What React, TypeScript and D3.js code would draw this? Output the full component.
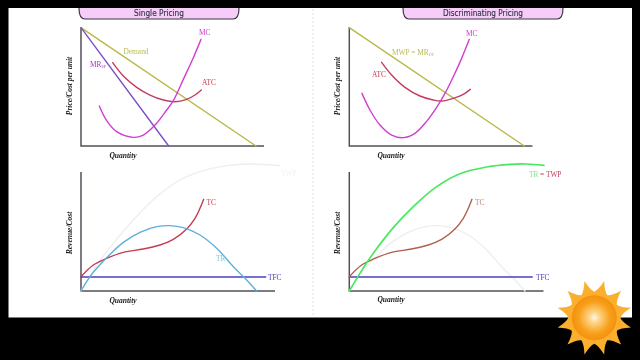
import React from "react";
import * as d3 from "d3";

type P = [number, number];

// Values, in chart units (3 units = 1 px wide, 3 units = 1 px tall)
const demand: P[] = [[0, 355], [525, 0]];
const marginalRevenue: P[] = [[0, 355], [263, 0]];
const mcSingle: P[] = [[55, 120], [77, 76], [107, 43], [157, 26], [187, 33], [222, 63], [257, 108], [277, 136], [307, 200], [337, 265], [360, 320]];
const atcSingle: P[] = [[95, 250], [127, 210], [167, 176], [207, 153], [247, 138], [282, 133], [317, 140], [342, 153], [361, 168]];
const mcDiscriminating: P[] = [[38, 158], [62, 108], [92, 63], [127, 33], [162, 25], [197, 38], [232, 74], [262, 116], [287, 158], [312, 208], [337, 263], [360, 320]];
const atcDiscriminating: P[] = [[97, 251], [127, 213], [167, 176], [212, 150], [252, 138], [277, 135], [312, 143], [342, 155], [363, 170]];
const totalRevenue: P[] = [[0, 0], [32, 50], [77, 100], [127, 146], [177, 176], [227, 193], [267, 196], [307, 190], [357, 168], [407, 128], [457, 73], [497, 33], [527, 0]];
const totalCost: P[] = [[0, 43], [37, 78], [77, 98], [127, 116], [187, 126], [237, 138], [277, 155], [317, 186], [342, 218], [357, 248], [368, 275]];
const tfcSingle: P[] = [[0, 42], [554, 42]];
const tfcDiscriminating: P[] = [[0, 42], [549, 42]];
const twpGhost: P[] = [[0, 0], [32, 55], [77, 118], [157, 213], [227, 283], [297, 333], [357, 358], [437, 376], [507, 381], [597, 376]];
const twpDiscriminating: P[] = [[0, 0], [32, 53], [72, 113], [132, 190], [192, 253], [262, 313], [332, 352], [412, 372], [482, 380], [532, 381], [584, 377]];
const titles = ["Single Pricing", "Discriminating Pricing"];
const titleWidths = [50, 80];
const sunSpikes = d3.range(12);

const INK = "#565058";
const x = d3.scaleLinear().domain([0, 525]).range([0, 175]);
const yTop = d3.scaleLinear().domain([0, 355]).range([146, 27.7]);
const yBottom = d3.scaleLinear().domain([0, 408]).range([291, 155]);

function Curve({ data, y, color, w = 1.4, ox }: { data: P[]; y: d3.ScaleLinear<number, number>; color: string; w?: number; ox: number }) {
  const gen = d3.line<P>().x((d) => ox + x(d[0])).y((d) => y(d[1])).curve(d3.curveCatmullRom.alpha(0.5));
  return <path d={gen(data) ?? ""} fill="none" stroke={color} strokeWidth={w} strokeLinecap="round" />;
}

function Label({ x: lx, y: ly, color, children, size = 7.4 }: { x: number; y: number; color: string; children: React.ReactNode; size?: number }) {
  return <text x={lx} y={ly} fill={color} fontSize={size} fontFamily="'Liberation Serif', serif">{children}</text>;
}

function AxisTitle({ x: lx, y: ly, rotate, children }: { x: number; y: number; rotate?: boolean; children: React.ReactNode }) {
  return (
    <text x={lx} y={ly} transform={rotate ? `rotate(-90 ${lx} ${ly})` : undefined} textAnchor="middle" fontSize={7.5} fontWeight="bold" fontStyle="italic" fill="#1a1a1a" fontFamily="'Liberation Serif', serif">
      {children}
    </text>
  );
}

function Axes({ ox, baseline, top, right }: { ox: number; baseline: number; top: number; right: number }) {
  return <path d={`M${ox} ${top}V${baseline}H${right}`} fill="none" stroke={INK} strokeWidth={1.5} />;
}

function Banner({ cx, title, width }: { cx: number; title: string; width: number }) {
  const h = 80;
  return (
    <g>
      <path d={`M${cx - h} 8 Q${cx - h} 19 ${cx - h + 6} 19 H${cx + h - 6} Q${cx + h} 19 ${cx + h} 8`} fill="#f6cdf8" stroke="#3f3548" strokeWidth={1.2} />
      <text x={cx} y={15.8} textAnchor="middle" fontSize={8.2} textLength={width} lengthAdjust="spacingAndGlyphs" stroke="#333348" strokeWidth={0.15} fill="#333348" fontFamily="'DejaVu Sans', sans-serif">{title}</text>
    </g>
  );
}

function Sun({ cx, cy }: { cx: number; cy: number }) {
  const step = (Math.PI * 2) / sunSpikes.length;
  let d = "";
  sunSpikes.forEach((i) => {
    const a = i * step + Math.PI / 12 - Math.PI / 2;
    const pt = (r: number, t: number) => `${cx + r * Math.cos(t)} ${cy + r * Math.sin(t)}`;
    d += `${i === 0 ? "M" : "L"}${pt(38, a)}Q${pt(28, a + step * 0.22)} ${pt(26, a + step * 0.5)}Q${pt(28, a + step * 0.78)} ${pt(38, a + step)}`;
  });
  return (
    <g>
      <path d={d + "Z"} fill="#fab02e" />
      <circle cx={cx} cy={cy} r={22.5} fill="url(#sunGrad)" />
    </g>
  );
}

export default function App() {
  const L = 81;
  const R = 349.3;
  return (
    <svg width={640} height={360} style={{ position: "fixed", left: 0, top: 0, background: "#000" }}>
      <defs>
        <filter id="soft" x="-5%" y="-5%" width="110%" height="110%">
          <feGaussianBlur stdDeviation="0.35" />
        </filter>
        <radialGradient id="sunGrad">
          <stop offset="0" stopColor="#fff8ea" />
          <stop offset="0.22" stopColor="#fdd68c" />
          <stop offset="0.7" stopColor="#f8a01a" />
          <stop offset="1" stopColor="#f4900e" />
        </radialGradient>
      </defs>
      <rect x={8.5} y={8} width={623.5} height={309.5} fill="#fff" />
      <g filter="url(#soft)">
        <line x1={313} x2={313} y1={9} y2={317} stroke="#ececec" strokeWidth={1.5} strokeDasharray="2 2" />
        <Banner cx={159} title={titles[0]} width={titleWidths[0]} />
        <Banner cx={483} title={titles[1]} width={titleWidths[1]} />

        {/* Single pricing, per unit */}
        <Axes ox={L} baseline={146} top={27} right={264} />
        <Curve data={demand} y={yTop} ox={L} color="#b8b848" />
        <Curve data={marginalRevenue} y={yTop} ox={L} color="#7a50c4" />
        <Curve data={atcSingle} y={yTop} ox={L} color="#c43c60" />
        <Curve data={mcSingle} y={yTop} ox={L} color="#d03fd0" />
        <Label x={123.5} y={54} color="#bcbc50">Demand</Label>
        <Label x={90} y={67} color="#a838c0">MR<tspan fontSize={4} dy={1}>SP</tspan></Label>
        <Label x={199} y={35} color="#c840c8">MC</Label>
        <Label x={202} y={85} color="#c43c50">ATC</Label>
        <AxisTitle x={72} y={86} rotate>Price/Cost per unit</AxisTitle>
        <AxisTitle x={123} y={158}>Quantity</AxisTitle>

        {/* Discriminating pricing, per unit */}
        <Axes ox={R} baseline={146} top={27} right={532.5} />
        <Curve data={demand} y={yTop} ox={R} color="#b8b848" />
        <Curve data={atcDiscriminating} y={yTop} ox={R} color="#c43c60" />
        <Curve data={mcDiscriminating} y={yTop} ox={R} color="#d03fd0" />
        <Label x={392} y={54.5} color="#bcbc50">MWP = MR<tspan fontSize={4} dy={1}>DP</tspan></Label>
        <Label x={372} y={77} color="#c43c50">ATC</Label>
        <Label x={466} y={35.5} color="#c840c8">MC</Label>
        <AxisTitle x={340} y={86} rotate>Price/Cost per unit</AxisTitle>
        <AxisTitle x={391} y={158}>Quantity</AxisTitle>

        {/* Single pricing, totals */}
        <Axes ox={L} baseline={291} top={172} right={275} />
        <Curve data={twpGhost} y={yBottom} ox={L} color="#eeeeee" />
        <Curve data={tfcSingle} y={yBottom} ox={L} color="#4a3fc8" />
        <Curve data={totalCost} y={yBottom} ox={L} color="#c43c50" />
        <Curve data={totalRevenue} y={yBottom} ox={L} color="#5fb0d6" />
        <Label x={206.5} y={205} color="#c8405a">TC</Label>
        <Label x={216} y={261} color="#7cc4de">TR</Label>
        <Label x={268} y={280} color="#4a3fb8">TFC</Label>
        <Label x={281} y={176} color="#f2f2f2">TWP</Label>
        <AxisTitle x={72} y={233} rotate>Revenue/Cost</AxisTitle>
        <AxisTitle x={123} y={303}>Quantity</AxisTitle>

        {/* Discriminating pricing, totals */}
        <Axes ox={R} baseline={291} top={172} right={543.5} />
        <Curve data={totalRevenue} y={yBottom} ox={R} color="#eeeeee" />
        <Curve data={tfcDiscriminating} y={yBottom} ox={R} color="#4a3fc8" />
        <Curve data={totalCost} y={yBottom} ox={R} color="#b0604e" />
        <Curve data={twpDiscriminating} y={yBottom} ox={R} color="#48e860" w={1.7} />
        <Label x={475} y={205} color="#c08870">TC</Label>
        <Label x={529} y={176.5} color="#80e090">TR</Label>
        <Label x={540} y={176.5} color="#c04060">= TWP</Label>
        <Label x={536} y={280} color="#4a3fb8">TFC</Label>
        <AxisTitle x={340} y={233} rotate>Revenue/Cost</AxisTitle>
        <AxisTitle x={391} y={302}>Quantity</AxisTitle>
        <Sun cx={594.3} cy={317.7} />
      </g>
    </svg>
  );
}
